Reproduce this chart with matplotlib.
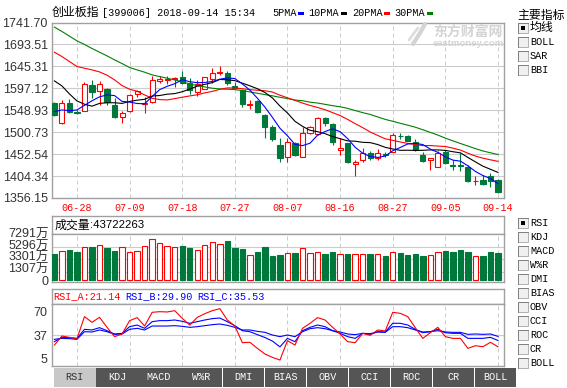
import matplotlib
matplotlib.use('Agg')
import matplotlib.pyplot as plt
from matplotlib.patches import Rectangle

W, H = 567, 388
CJK = 'Noto Sans CJK SC'
MONO = 'Liberation Mono'
SANS = 'Liberation Sans'

# ---------------- data ----------------
dates = ['06-25', '06-26', '06-27', '06-28', '06-29',
         '07-02', '07-03', '07-04', '07-05', '07-06', '07-09', '07-10', '07-11', '07-12', '07-13',
         '07-16', '07-17', '07-18', '07-19', '07-20', '07-23', '07-24', '07-25', '07-26', '07-27',
         '07-30', '07-31', '08-01', '08-02', '08-03', '08-06', '08-07', '08-08', '08-09', '08-10',
         '08-13', '08-14', '08-15', '08-16', '08-17', '08-20', '08-21', '08-22', '08-23', '08-24',
         '08-27', '08-28', '08-29', '08-30', '08-31', '09-03', '09-04', '09-05', '09-06', '09-07',
         '09-10', '09-11', '09-12', '09-13', '09-14']

opens = [1565.7, 1520.3, 1564.3, 1545.9, 1548.1, 1604.6, 1590.7, 1595.1, 1560.6, 1533.5,
         1548.1, 1585.5, 1562.1, 1567.2, 1613.4, 1614.9, 1617.1, 1622.2, 1608.3, 1589.9,
         1595.8, 1617.1, 1630.3, 1630.3, 1602.4, 1593.6, 1559.9, 1569.4, 1538.6, 1512.9,
         1471.8, 1446.9, 1477.7, 1446.9, 1498.2, 1496.0, 1532.0, 1518.8, 1460.8, 1476.2,
         1430.0, 1439.6, 1454.2, 1444.7, 1452.8, 1457.9, 1493.1, 1492.4, 1479.9, 1450.6,
         1439.6, 1424.9, 1457.9, 1427.8, 1427.8, 1424.9, 1392.6, 1395.6, 1404.3, 1395.6]
highs = [1567.9, 1571.6, 1573.8, 1549.6, 1611.9, 1615.6, 1614.1, 1597.3, 1575.3, 1548.1,
         1584.8, 1593.6, 1578.9, 1624.4, 1624.4, 1624.4, 1622.9, 1636.1, 1619.3, 1615.6,
         1622.9, 1642.7, 1646.4, 1636.1, 1611.2, 1595.1, 1571.6, 1571.6, 1540.8, 1516.6,
         1487.2, 1487.2, 1479.9, 1511.4, 1514.4, 1534.9, 1534.9, 1520.3, 1487.2, 1477.7,
         1439.6, 1465.2, 1459.4, 1463.0, 1457.9, 1498.2, 1499.7, 1493.8, 1485.0, 1457.9,
         1444.7, 1459.4, 1461.6, 1439.6, 1454.2, 1427.8, 1404.3, 1406.5, 1411.7, 1397.0]
lows = [1537.1, 1518.1, 1543.7, 1540.8, 1547.0, 1575.3, 1560.6, 1560.6, 1532.7, 1520.3,
        1545.9, 1577.5, 1542.3, 1565.7, 1609.7, 1606.1, 1600.9, 1606.8, 1584.8, 1580.4,
        1595.1, 1608.3, 1626.6, 1603.9, 1597.3, 1555.5, 1551.8, 1543.7, 1487.2, 1482.1,
        1435.9, 1435.9, 1448.4, 1445.4, 1496.8, 1493.8, 1514.4, 1472.6, 1450.6, 1432.2,
        1405.1, 1435.9, 1439.6, 1439.6, 1445.4, 1456.4, 1485.8, 1480.6, 1459.4, 1435.9,
        1417.6, 1423.4, 1430.7, 1417.6, 1416.1, 1391.9, 1384.6, 1385.3, 1380.9, 1367.7]
closes = [1539.3, 1564.3, 1545.9, 1543.0, 1606.1, 1589.9, 1606.8, 1567.9, 1534.9, 1542.3,
          1581.9, 1592.1, 1564.3, 1615.6, 1617.1, 1618.5, 1620.7, 1608.3, 1593.6, 1606.1,
          1621.5, 1630.3, 1633.9, 1608.3, 1598.7, 1562.1, 1562.8, 1544.5, 1511.4, 1485.0,
          1443.2, 1479.9, 1449.8, 1498.2, 1511.4, 1531.3, 1520.3, 1479.9, 1465.9, 1435.9,
          1435.9, 1455.7, 1443.2, 1455.7, 1450.6, 1494.6, 1491.6, 1482.1, 1461.6, 1438.1,
          1444.7, 1455.7, 1432.2, 1426.4, 1426.4, 1393.4, 1394.1, 1386.8, 1394.1, 1369.9]

ma5 = [1545.9, 1549.6, 1548.1, 1549.6, 1559.7, 1569.8, 1578.3, 1582.7, 1581.1, 1568.4,
       1566.8, 1563.8, 1563.1, 1579.2, 1594.2, 1601.5, 1607.2, 1616.0, 1611.6, 1609.4,
       1610.0, 1612.0, 1617.1, 1620.0, 1618.5, 1606.7, 1593.2, 1575.3, 1555.9, 1533.2,
       1509.4, 1492.8, 1473.9, 1471.2, 1476.5, 1494.1, 1502.2, 1508.2, 1501.8, 1486.7,
       1467.6, 1454.7, 1447.3, 1445.3, 1448.2, 1460.0, 1467.1, 1474.9, 1476.1, 1473.6,
       1463.6, 1456.4, 1446.5, 1439.4, 1437.1, 1426.8, 1414.5, 1405.4, 1399.0, 1387.7]
ma10 = [1613.4, 1602.4, 1584.8, 1569.4, 1562.1, 1557.9, 1564.0, 1565.4, 1565.4, 1564.0,
        1568.3, 1571.1, 1572.9, 1580.2, 1581.3, 1584.2, 1585.5, 1589.6, 1595.4, 1601.8,
        1605.8, 1609.6, 1616.6, 1615.8, 1614.0, 1608.4, 1602.6, 1596.2, 1588.0, 1575.9,
        1558.1, 1543.0, 1524.6, 1513.6, 1504.9, 1501.8, 1497.5, 1491.1, 1486.5, 1481.6,
        1480.9, 1478.5, 1477.8, 1473.6, 1467.5, 1463.8, 1460.9, 1461.1, 1460.7, 1460.9,
        1461.8, 1461.8, 1460.7, 1457.8, 1455.4, 1445.2, 1435.5, 1426.0, 1419.2, 1412.4]
ma20 = [1676.5, 1666.9, 1656.0, 1644.9, 1641.3, 1637.6, 1633.2, 1625.9, 1615.6, 1603.1,
        1595.1, 1590.7, 1582.6, 1575.3, 1572.3, 1571.6, 1574.5, 1577.5, 1580.4, 1582.9,
        1587.1, 1590.4, 1594.8, 1598.0, 1597.7, 1596.3, 1594.1, 1592.9, 1591.7, 1588.9,
        1582.0, 1576.3, 1570.6, 1564.7, 1559.5, 1555.1, 1550.1, 1543.7, 1537.3, 1528.8,
        1519.5, 1510.8, 1501.2, 1493.6, 1486.2, 1482.8, 1479.2, 1476.1, 1473.6, 1471.3,
        1471.4, 1470.2, 1469.3, 1465.7, 1461.5, 1454.5, 1448.2, 1443.6, 1440.0, 1436.7]
ma30 = [1731.5, 1722.0, 1711.7, 1701.4, 1693.4, 1684.6, 1676.5, 1668.4, 1659.6, 1651.5,
        1642.7, 1637.6, 1632.5, 1626.6, 1622.9, 1619.3, 1615.6, 1611.2, 1606.8, 1603.1,
        1600.2, 1597.3, 1595.8, 1595.1, 1594.3, 1592.1, 1589.2, 1586.3, 1583.3, 1580.6,
        1577.4, 1574.6, 1571.4, 1569.9, 1566.7, 1564.8, 1561.9, 1559.0, 1556.6, 1553.1,
        1548.3, 1543.7, 1539.7, 1534.3, 1528.8, 1524.7, 1520.3, 1516.1, 1511.7, 1506.1,
        1500.3, 1494.4, 1487.7, 1481.7, 1475.9, 1470.3, 1464.6, 1459.4, 1455.5, 1451.6]

volume_wan = [4102, 4614, 4717, 4409, 5281, 5281, 5588, 5024, 4563, 5281,
              4512, 4666, 5435, 6511, 5896, 5435, 5281, 5486, 5024, 4819,
              5588, 6050, 5794, 6255, 5178, 4871, 4050, 4409, 5332, 3794,
              3948, 4255, 4255, 5127, 4255, 4512, 4102, 4409, 4204, 4102,
              4102, 4102, 4102, 4102, 3794, 4512, 4255, 3948, 4102, 3794,
              3948, 4512, 4563, 4409, 4717, 4409, 3897, 3794, 4409, 4372]

rsi_a = [23.5, 36.1, 34.2, 32.4, 63.1, 55.2, 62.1, 48.2, 35.2, 38.9,
         57.5, 61.7, 50.0, 69.1, 70.0, 69.6, 71.4, 60.7, 51.4, 62.1,
         67.2, 71.4, 74.2, 58.4, 50.0, 26.8, 27.3, 18.9, 11.0, 6.3,
         2.6, 29.6, 23.5, 46.8, 53.8, 61.7, 58.4, 48.2, 38.9, 28.2,
         26.8, 39.8, 37.0, 44.5, 43.1, 69.1, 67.7, 63.1, 47.7, 32.8,
         40.7, 48.2, 35.2, 32.8, 32.8, 18.9, 22.6, 21.2, 27.3, 21.14]
rsi_b = [28.2, 34.2, 33.8, 32.8, 45.4, 44.5, 47.7, 43.5, 38.9, 39.8,
         49.1, 51.4, 46.8, 56.1, 57.5, 57.5, 58.4, 56.6, 53.8, 56.1,
         58.4, 60.3, 61.2, 56.1, 50.5, 43.5, 42.1, 38.0, 34.0, 29.0,
         21.0, 32.8, 28.2, 43.5, 48.2, 51.4, 49.1, 43.5, 39.8, 35.2,
         32.8, 39.8, 38.4, 42.1, 41.7, 53.8, 53.8, 51.4, 45.4, 40.7,
         42.1, 45.4, 40.7, 39.8, 39.8, 32.8, 32.8, 32.8, 34.2, 29.90]
rsi_c = [31.4, 32.8, 32.4, 31.4, 42.1, 41.7, 44.5, 42.1, 38.4, 38.9,
         45.4, 46.8, 44.5, 50.0, 50.0, 50.0, 50.5, 49.6, 48.2, 49.1,
         50.5, 51.9, 52.8, 51.0, 48.2, 44.5, 44.5, 42.6, 41.2, 37.5,
         35.2, 37.5, 35.2, 42.1, 46.3, 47.7, 46.3, 43.5, 41.7, 38.9,
         38.0, 39.8, 39.4, 41.7, 41.2, 49.1, 49.1, 47.7, 44.5, 41.7,
         42.1, 43.5, 41.7, 41.2, 41.2, 38.4, 38.9, 38.4, 38.9, 35.53]

price_ticks = [1356.15, 1404.34, 1452.54, 1500.73, 1548.93, 1597.12, 1645.31, 1693.51, 1741.70]
vol_ticks = [1307, 3301, 5296, 7291]
vol_tick_labels = ['0', '1307万', '3301万', '5296万', '7291万']
vol_floor = -289          # bottom edge of the volume scale (labelled "0")
rsi_ticks = [5, 37, 70]
date_ticks = ['06-28', '07-09', '07-18', '07-27', '08-07', '08-16', '08-27', '09-05', '09-14']
title_name = '创业板指'
title_rest = '[399006] 2018-09-14 15:34'
volume_total = '43722263'
legend_names = ['5PMA', '10PMA', '20PMA', '30PMA']
main_indicators = ['均线', 'BOLL', 'SAR', 'BBI']
sub_indicators = ['RSI', 'KDJ', 'MACD', 'W%R', 'DMI', 'BIAS', 'OBV', 'CCI', 'ROC', 'CR', 'BOLL']

# ---------------- style ----------------
RED = '#FF0000'
GREEN = '#00783C'
BLUE = '#0000FF'
MA_COLORS = ['#0000FF', '#000000', '#FF0000', '#008000']
GRID = '#CCCCCC'
BORDER = '#A0A0A0'
TXT = '#333333'

fig = plt.figure(figsize=(W / 100, H / 100), dpi=100)
fig.patch.set_facecolor('white')


def rect(x0, y0, x1, y1):
    return [x0 / W, 1 - y1 / H, (x1 - x0) / W, (y1 - y0) / H]


xs = list(range(len(dates)))
XL = (-0.32, 59.8)
tick_idx = [dates.index(d) for d in date_ticks]
up = [c >= o for o, c in zip(opens, closes)]
cols = [RED if u else GREEN for u in up]
faces = ['white' if u else GREEN for u in up]


def frame(ax, vgrid=True):
    ax.set_xlim(*XL)
    for s in ax.spines.values():
        s.set_color(BORDER)
        s.set_linewidth(1.0)
    ax.tick_params(length=0)
    if vgrid:
        for t in tick_idx:
            ax.axvline(t, color=GRID, lw=0.72, ls=(0, (4, 3)), zorder=0)


# ---- main price panel ----
ax = fig.add_axes(rect(52, 22.5, 504, 198))
frame(ax)
ax.set_ylim(price_ticks[0], price_ticks[-1])
for p in price_ticks[1:-1]:
    ax.axhline(p, color=GRID, lw=0.8, zorder=0)
ax.set_yticks(price_ticks)
ax.set_yticklabels(['%.2f' % p for p in price_ticks], fontfamily=SANS, fontsize=9, color=TXT)
ax.set_xticks(tick_idx)
ax.set_xticklabels(date_ticks, fontfamily=MONO, fontsize=7.3, color=RED)
ax.tick_params(axis='y', pad=3)
ax.tick_params(axis='x', pad=3.5)
ax.vlines(xs, lows, highs, colors=cols, lw=0.8, zorder=2)
ax.bar(xs, [c - o for o, c in zip(opens, closes)], bottom=opens, width=0.68,
       color=faces, edgecolor=cols, linewidth=0.8, zorder=3)
for ma, c in zip([ma30, ma20, ma10, ma5], MA_COLORS[::-1]):
    ax.plot(xs, ma, color=c, lw=0.8, zorder=4)

# ---- volume header ----
vh = fig.add_axes(rect(52, 216, 504, 234.3))
frame(vh, vgrid=False)
vh.set_xticks([]); vh.set_yticks([])
vh.text(0.005, 0.5, '成交量', transform=vh.transAxes, fontfamily=CJK, fontsize=8.6,
        va='center', ha='left', color='#000000')
vh.text(0.083, 0.5, ':' + volume_total, transform=vh.transAxes, fontfamily=SANS, fontsize=8.2,
        va='center', ha='left', color='#000000')

# ---- volume panel ----
av = fig.add_axes(rect(52, 234.3, 504, 281.7))
frame(av)
av.set_ylim(vol_floor, vol_ticks[-1])
for v in vol_ticks[:-1]:
    av.axhline(v, color=GRID, lw=0.8, zorder=0)
av.set_yticks([])
av.set_xticks([])
av.bar(xs, volume_wan, bottom=0, width=0.72, color=faces, edgecolor=cols, linewidth=0.8, zorder=3)

# ---- RSI header ----
rh = fig.add_axes(rect(52, 289, 504, 304))
frame(rh, vgrid=False)
rh.set_xticks([]); rh.set_yticks([])

# ---- RSI panel ----
ar = fig.add_axes(rect(52, 304, 504, 366))
frame(ar)
ar.set_ylim(-5.7, 80.7)
ar.axhline(37, color=GRID, lw=0.8, zorder=0)
ar.set_yticks(rsi_ticks)
ar.set_yticklabels([str(t) for t in rsi_ticks], fontfamily=SANS, fontsize=9, color=TXT)
ar.set_xticks([])
ar.tick_params(axis='y', pad=3)
ar.plot(xs, rsi_c, color=BLUE, lw=0.8, zorder=3)
ar.plot(xs, rsi_b, color=BLUE, lw=0.8, zorder=3)
ar.plot(xs, rsi_a, color=RED, lw=0.8, zorder=4)

# ---- overlay in pixel coordinates ----
ov = fig.add_axes([0, 0, 1, 1], zorder=10)
ov.set_xlim(0, W)
ov.set_ylim(H, 0)
ov.axis('off')
ov.patch.set_alpha(0)

# volume axis labels (evenly stacked as in the reference, bottom = 0)
for k, lab in enumerate(vol_tick_labels):
    ov.text(48.5, 281.7 - 11.7 * k, lab, fontfamily=[SANS, CJK], fontsize=9, color=TXT,
            va='center', ha='right')

# title + legend
ov.text(52, 12.5, title_name, fontfamily=CJK, fontsize=8.6, va='center', ha='left', color='#000')
ov.text(101.5, 12.5, title_rest, fontfamily=MONO, fontsize=7.3, va='center', ha='left', color='#000')
leg_x = [272, 308, 352, 394]
dash_x = [298, 341, 384, 427]
for name, lx, dx, c in zip(legend_names, leg_x, dash_x, MA_COLORS):
    ov.text(lx, 12.5, name, fontfamily=MONO, fontsize=7.3, va='center', ha='left', color='#000')
    ov.add_patch(Rectangle((dx, 11.5), 6, 3, color=c, lw=0))

# RSI header text
rsi_vals = [rsi_a[-1], rsi_b[-1], rsi_c[-1]]
for k, (nm, v, c) in enumerate(zip(['RSI_A', 'RSI_B', 'RSI_C'], rsi_vals, [RED, BLUE, BLUE])):
    ov.text(53 + 72 * k, 296.5, '%s:%.2f' % (nm, v), fontfamily=MONO, fontsize=7.3,
            va='center', ha='left', color=c)

# watermark
ov.text(433, 32, '东方财富网', fontfamily=CJK, fontsize=10, fontweight='bold',
        va='center', ha='left', color='#D4D4D4')
ov.text(433, 43.5, 'eastmoney.com', fontfamily=SANS, fontsize=6.8, fontweight='bold',
        va='center', ha='left', color='#D4D4D4')
ov.plot([413, 420, 425], [44, 33, 24], color='#D4D4D4', lw=3, solid_capstyle='round')
ov.plot([409, 414, 418], [40, 33, 28], color='#DDDDDD', lw=2, solid_capstyle='round')


def checkbox(y, checked):
    ov.add_patch(Rectangle((518, y - 5), 10, 10, facecolor='#F0F0F0', edgecolor='#B0B0B0', lw=0.7))
    ov.plot([518, 518, 528], [y + 5, y - 5, y - 5], color='#808080', lw=0.7)
    if checked:
        ov.add_patch(Rectangle((521, y - 2), 4, 4, facecolor='#000000', lw=0))


ov.text(517, 15, '主要指标', fontfamily=CJK, fontsize=8.6, va='center', ha='left', color='#000')
for k, nm in enumerate(main_indicators):
    y = 27.5 + 14.2 * k
    checkbox(y, k == 0)
    fam = CJK if k == 0 else MONO
    ov.text(530, y, nm, fontfamily=fam, fontsize=8.6 if k == 0 else 7.3, va='center', ha='left', color='#000')
for k, nm in enumerate(sub_indicators):
    y = 223.3 + 14 * k
    checkbox(y, k == 0)
    ov.text(530, y, nm, fontfamily=MONO, fontsize=7.3, va='center', ha='left', color='#000')

# tabs
for k, nm in enumerate(sub_indicators):
    x0 = 54.3 + 42.05 * k
    sel = (k == 0)
    ov.add_patch(Rectangle((x0, 367.5), 41.2, 19.5, facecolor='#C8C8C8' if sel else '#555555', lw=0))
    ov.text(x0 + 20.6, 377.3, nm, fontfamily=MONO, fontsize=7.3, va='center', ha='center',
            color='#333333' if sel else '#FFFFFF')

fig.savefig('out.png', dpi=100, facecolor='white')
